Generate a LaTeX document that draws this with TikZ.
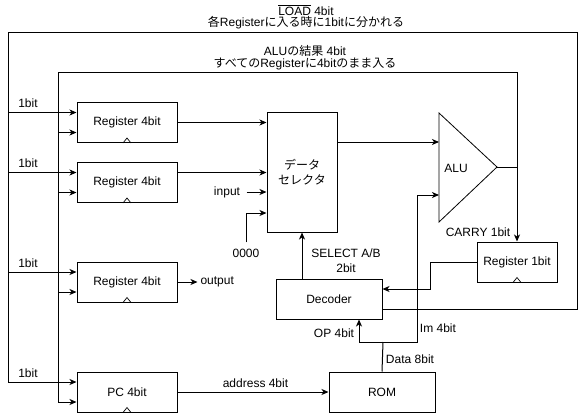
\documentclass[tikz,border=0pt]{standalone}
\usepackage{fontspec}
\setmainfont{Liberation Sans}
\newfontfamily\cjk{Noto Sans CJK JP}
\usetikzlibrary{arrows.meta,calc}
\newcommand\clocktri[1]{\draw[line width=0.7pt] ([xshift=-4pt]#1.south) -- ([yshift=5pt]#1.south) -- ([xshift=4pt]#1.south);}
\begin{document}
\begin{tikzpicture}[x=1pt,y=-1pt,font=\fontsize{12}{14}\selectfont,line width=1pt,
  arr/.style={-{Stealth[length=7pt,width=6pt,inset=2pt]}},
  reg/.style={draw,minimum width=100pt,minimum height=40pt,inner sep=0pt},
  lbl/.style={inner sep=0pt}]
\useasboundingbox (0,0) rectangle (586,413);
% boxes
\node[reg] (r1) at (127,122.5) {Register 4bit};
\node[reg] (r2) at (127,182.5) {Register 4bit};
\node[reg] (r3) at (127,282) {Register 4bit};
\node[reg] (pc) at (127,392) {PC 4bit};
\node[draw,minimum width=70pt,minimum height=120pt,inner sep=0pt,align=center,font=\fontsize{12}{15}\selectfont\cjk] (sel) at (302,172) {データ\\セレクタ};
\node[draw,minimum width=80pt,minimum height=40pt,inner sep=0pt] (rb) at (517,262) {Register 1bit};
\node[draw,minimum width=106pt,minimum height=40pt,inner sep=0pt] (dec) at (329,299) {Decoder};
\node[draw,minimum width=106pt,minimum height=40pt,inner sep=0pt] (rom) at (382,392) {ROM};
\foreach \n in {r1,r2,r3,pc,rb}{\clocktri{\n}}
% ALU
\coordinate (aluT) at (439,113);
\coordinate (aluB) at (439,222);
\coordinate (aluP) at (497,167);
\draw[line width=0.8pt] (aluT) -- (aluP) -- (aluB) -- cycle;
\node[lbl] (alu) at (456,168) {ALU};
% top labels
\node[lbl] (load) at (306,10) {$\overline{\mbox{LOAD}}$ 4bit};
\node[lbl] (load2) at (306,23) {{\cjk 各}Register{\cjk に入る時に}1bit{\cjk に分かれる}};
\node[lbl] (res) at (305,51) {ALU{\cjk の結果} 4bit};
\node[lbl] (res2) at (305,64) {{\cjk すべての}Register{\cjk に}4bit{\cjk のまま入る}};
% outer LOAD loop
\coordinate (L) at (8,32);
\draw ([yshift=-10pt]dec.east) -- (577,309) -- (577,32) -- (L) -- ([yshift=10pt]pc.west -| L);
\foreach \n in {r1,r2,r3,pc}{\draw[arr] ([yshift=10pt]\n.west -| L) -- ([yshift=10pt]\n.west);}
% inner ALU result loop
\coordinate (I) at (58,72);
\coordinate (K) at (517,167);
\draw (aluP) -- (K);
\draw[arr] (K) -- (rb.north);
\draw (K) -- (517,72) -- (I) -- ([yshift=-10pt]pc.west -| I);
\foreach \n in {r1,r2,r3,pc}{\draw[arr] ([yshift=-10pt]\n.west -| I) -- ([yshift=-10pt]\n.west);}
% 1bit labels
\foreach \y/\m in {103/a,163/b,263/c,373/d}{\node[lbl] (bit\m) at (28,\y) {1bit};}
% selector inputs
\draw[arr] (r1.east) -- (r1.east -| sel.west);
\draw[arr] ([yshift=10pt]r2.east) -- ([yshift=10pt]r2.east -| sel.west);
\node[lbl] (inp) at (227,192) {input};
\draw[arr] ([xshift=6pt]inp.east) -- (inp.east -| sel.west);
\node[lbl] (zero) at (246,253) {0000};
\draw[arr] ([yshift=6pt]zero.north) |- ([yshift=-41pt]sel.west);
% selector to ALU
\draw[arr] ([yshift=30pt]sel.east) -- ([yshift=30pt]sel.east -| aluT);
% register 3 output
\draw[arr] (r3.east) -- ++(20,0) coordinate (oe);
\node[lbl,anchor=west] (out) at (200,282) {output};
% PC to ROM
\draw[arr] (pc.east) -- (rom.west);
\node[lbl] (addr) at (255.5,383) {address 4bit};
% ROM data
\coordinate (J) at (383,342);
\draw (rom.north) -- (J);
\draw[arr] (J) -| ([xshift=30pt]dec.south);
\draw[arr] (J) -| (417,195) -- (aluT |- 0,195);
\node[lbl] (op) at (334,333) {OP 4bit};
\node[lbl] (im) at (438,328) {Im 4bit};
\node[lbl] (data) at (410,359) {Data 8bit};
% decoder to selector
\draw[arr] (dec.north -| sel.south) -- (sel.south);
\node[lbl,align=center,font=\fontsize{12}{15}\selectfont] (selab) at (346,261) {SELECT A/B\\2bit};
% carry register to decoder
\draw[arr] (rb.west) -- (430,262) |- ([yshift=10pt]dec.east);
\node[lbl] (carry) at (478,232) {CARRY 1bit};
\end{tikzpicture}
\end{document}
